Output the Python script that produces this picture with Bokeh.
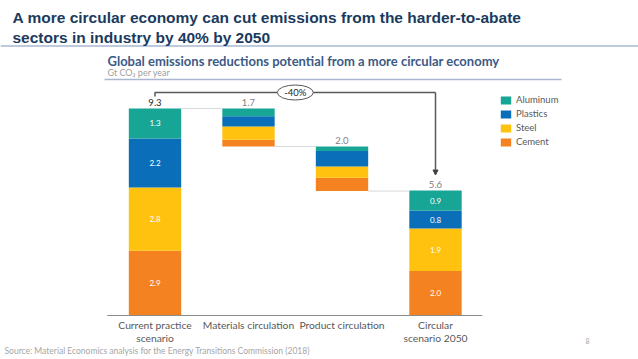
from bokeh.plotting import figure
from bokeh.models import (ColumnDataSource, Label, Arrow, NormalHead,
                          Legend, LegendItem, Range1d)
from bokeh.core.properties import value
from bokeh.embed import file_html
from bokeh.resources import INLINE

# ---------------- data ----------------
categories = ["Current practice\nscenario", "Materials circulation",
              "Product circulation", "Circular\nscenario 2050"]
is_step = [False, True, True, False]
series = ["Cement", "Steel", "Plastics", "Aluminum"]
cement = [2.9, 0.3, 0.6, 2.0]
steel = [2.84, 0.6, 0.5, 1.9]
plastics = [2.2, 0.45, 0.7, 0.8]
aluminum = [1.34, 0.35, 0.2, 0.9]
colors = ["#F58220", "#FFC20E", "#0B6EB9", "#17A595"]

title1 = "A more circular economy can cut emissions from the harder-to-abate"
title2 = "sectors in industry by 40% by 2050"
subtitle = "Global emissions reductions potential from a more circular economy"
unit = "Gt CO\u2082 per year"
source_txt = "Source: Material Economics analysis for the Energy Transitions Commission (2018)"
page_no = "8"

# ---------------- derived ----------------
values = [cement, steel, plastics, aluminum]
xs = list(range(len(categories)))
totals = [sum(v) for v in zip(*values)]
base, levels = [], []
level = 0.0
for i, t in enumerate(totals):
    if is_step[i]:
        level = level - t
        base.append(level)
    else:
        base.append(0.0)
        level = t
    levels.append(level)
tops = [b + t for b, t in zip(base, totals)]

W, H = 638, 359
XPX = 93.5     # px per category
YPX = 22.3     # px per Gt
X0, Y0 = 154.5, 315   # page position of x=0, y=0
BW = 0.56

p = figure(width=W, height=H,
           x_range=Range1d(-X0 / XPX, (W - X0) / XPX),
           y_range=Range1d(-(H - Y0) / YPX, Y0 / YPX),
           x_axis_type=None, y_axis_type=None,
           output_backend="svg", toolbar_location=None,
           min_border_left=0, min_border_right=0, min_border_top=0, min_border_bottom=0)
p.outline_line_color = None
p.grid.visible = False

# decorative rules, page position converted to data space
def rule(x0, x1, py, color):
    p.segment(x0=[(x0 - X0) / XPX], y0=[(Y0 - py) / YPX], x1=[(x1 - X0) / XPX],
              y1=[(Y0 - py) / YPX], line_color=color, line_width=1.5)

rule(0, W, 45.5, "#A9B8D0")
rule(104, 561, 79, "#A9B8D0")

renderers = {}
cum = list(base)
for name, vals, col in zip(series, values, colors):
    bottoms = cum[:]
    tps = [b + v for b, v in zip(bottoms, vals)]
    src = ColumnDataSource(dict(x=xs, bottom=bottoms, top=tps))
    renderers[name] = p.vbar(x="x", width=BW, bottom="bottom", top="top", source=src,
                             fill_color=col, line_color=None)
    lx, ly, lt = [], [], []
    for i in xs:
        if not is_step[i]:
            lx.append(i)
            ly.append((bottoms[i] + tps[i]) / 2)
            lt.append(f"{vals[i]:.1f}")
    p.text(x=lx, y=ly, text=lt, text_color="white", text_font=value("Lato"),
           text_font_size="8px", text_align="center", text_baseline="middle")
    cum = tps

# connectors
cx0 = [i + BW / 2 for i in xs[:-1]]
cx1 = [i + 1 - BW / 2 for i in xs[:-1]]
cy = levels[:-1]
p.segment(x0=cx0, y0=cy, x1=cx1, y1=cy, line_color="#D9D9D9", line_width=1)

# totals above bars
tcol = ["#262626", "#7F7F7F", "#7F7F7F", "#7F7F7F"]
p.text(x=xs, y=tops, text=[f"{t:.1f}" for t in totals], text_color=tcol,
       text_font=value("Lato"), text_font_size="9.5px", text_align="center",
       text_baseline="middle", y_offset=-6)

# category axis: baseline and labels
p.segment(x0=[xs[0] - 0.51], y0=[0], x1=[xs[-1] + 0.5], y1=[0], line_color="#8C8C8C", line_width=1)
p.text(x=xs, y=[0] * len(xs), text=categories, text_color="#595959", text_font=value("Lato"),
       text_font_size="10.3px", text_align="center", text_baseline="top", y_offset=3,
       text_line_height=1.15)

# bracket with -40%
by = 10.0
p.line(x=[xs[0], xs[0], xs[-1]], y=[by - 0.18, by, by], line_color="#595959", line_width=1.5)
p.add_layout(Arrow(x_start=xs[-1], y_start=by, x_end=xs[-1], y_end=tops[-1] + 0.7,
                   line_color="#595959", line_width=1.5,
                   end=NormalHead(size=5, fill_color="#404040", line_color="#404040")))
p.ellipse(x=[1.5], y=[by], width=36, height=15, width_units="screen", height_units="screen",
          fill_color="white", line_color="#595959", line_width=1)
pct = (totals[-1] - totals[0]) / totals[0]
p.text(x=[1.5], y=[by], text=[f"{pct:.0%}"], text_color="#262626", text_font=value("Lato"),
       text_font_size="9.5px", text_align="center", text_baseline="middle")

# legend
items = [LegendItem(label=n, renderers=[renderers[n]]) for n in ["Aluminum", "Plastics", "Steel", "Cement"]]
leg = Legend(items=items, location=(499, H - 147), glyph_width=13, glyph_height=10, label_height=10,
             spacing=3, padding=0, margin=0, label_standoff=4, label_text_font="Lato",
             label_text_font_size="9.5px", label_text_color="#595959",
             border_line_color=None, background_fill_alpha=0)
p.add_layout(leg, "center")

# header / footer texts (page position -> screen units)
def lab(text, px, py, size, color, font="Lato", style="normal"):
    p.add_layout(Label(x=px, y=H - py, x_units="screen", y_units="screen", text=text,
                       text_font=font, text_font_size=size, text_color=color,
                       text_font_style=style, text_baseline="middle"))

lab(title1, 12, 17, "15.5px", "#1A3A5E", "Liberation Sans", "bold")
lab(title2, 12, 37, "15.5px", "#1A3A5E", "Liberation Sans", "bold")
lab(subtitle, 107, 60, "13px", "#3D5A86", "Lato", "bold")
lab(unit, 107, 72, "9px", "#A0A0A0")
lab(source_txt, 4, 350, "8.5px", "#A6A6A6")
lab(page_no, 585, 340, "7px", "#A6A6A6")

open("out.html", "w").write(file_html(p, INLINE))
